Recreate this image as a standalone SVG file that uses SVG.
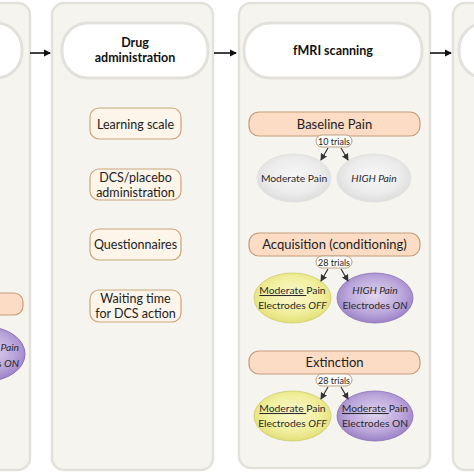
<svg xmlns="http://www.w3.org/2000/svg" width="474" height="474" viewBox="0 0 474 474">
<style>
.panel{fill:#f6f4ee;stroke:#e3e1db;stroke-width:2.5}
.head{fill:#ffffff;stroke:#e3e1db;stroke-width:3}
.htxt{font-family:Lato,"Open Sans",sans-serif;font-weight:bold;font-size:12.5px;fill:#111;text-anchor:middle}
.step{fill:#fdf5e9;stroke:#c9a57f;stroke-width:1.2}
.stxt{font-family:Lato,"Open Sans",sans-serif;font-size:12.5px;fill:#222;text-anchor:middle}
.phase{fill:#fcdcc4;stroke:#c39d7c;stroke-width:1.2}
.ptxt{font-family:Lato,"Open Sans",sans-serif;font-size:13px;fill:#222;text-anchor:middle}
.trial{fill:#ffffff;stroke:#b9a184;stroke-width:1}
.ttxt{font-family:Lato,"Open Sans",sans-serif;font-size:9px;fill:#222;text-anchor:middle}
.etxt{font-family:Lato,"Open Sans",sans-serif;font-size:10.3px;fill:#2a2a2a;text-anchor:middle}
.flow{stroke:#111;stroke-width:1.6;fill:none;marker-end:url(#ah)}
.sub{stroke:#333;stroke-width:1.2;fill:none;marker-end:url(#sh)}
.u{text-decoration:underline}
.i{font-style:italic}
</style>
<defs>
<marker id="ah" markerWidth="8" markerHeight="8" refX="6" refY="4" orient="auto" markerUnits="userSpaceOnUse"><path d="M0,0.5 L7,4 L0,7.5 Z" fill="#111"/></marker>
<marker id="sh" markerWidth="8" markerHeight="8" refX="6" refY="4" orient="auto" markerUnits="userSpaceOnUse"><path d="M0,0.5 L7,4 L0,7.5 Z" fill="#333"/></marker>
<radialGradient id="gGray" cx="0.5" cy="0.45" r="0.6"><stop offset="0" stop-color="#f7f7f7"/><stop offset="0.6" stop-color="#ececec"/><stop offset="1" stop-color="#d9d9d9"/></radialGradient>
<radialGradient id="gYel" cx="0.5" cy="0.45" r="0.6"><stop offset="0" stop-color="#fbf9cf"/><stop offset="0.6" stop-color="#f1ef9e"/><stop offset="1" stop-color="#dedc6e"/></radialGradient>
<radialGradient id="gPur" cx="0.5" cy="0.45" r="0.6"><stop offset="0" stop-color="#e2d6f0"/><stop offset="0.6" stop-color="#bba7db"/><stop offset="1" stop-color="#9479c2"/></radialGradient>
</defs>

<g id="panel-left">
<rect class="panel" x="-40" y="3" width="70" height="467" rx="12"/>
<rect class="head" x="-60" y="23" width="82" height="55" rx="26"/>
<rect class="phase" x="-80" y="293" width="103" height="22" rx="9"/>
<ellipse cx="-13" cy="354" rx="38" ry="27" fill="url(#gPur)" stroke="#8a70b8" stroke-width="1"/>
<text class="etxt" x="19" y="351" style="text-anchor:end"><tspan class="i">HIGH Pain</tspan></text>
<text class="etxt" x="19" y="367" style="text-anchor:end">Electrodes <tspan class="i">ON</tspan></text>
</g>

<g id="panel-drug">
<rect class="panel" x="52" y="3" width="161" height="467" rx="12"/>
<rect class="head" x="62" y="23" width="146" height="55" rx="26"/>
<text class="htxt" x="135" y="47">Drug</text>
<text class="htxt" x="135" y="62">administration</text>
</g>
<g id="step-learning"><rect class="step" x="90" y="108" width="91" height="31" rx="9"/><text class="stxt" x="135.5" y="128.5">Learning scale</text></g>
<g id="step-dcs"><rect class="step" x="90" y="169" width="91" height="31" rx="9"/><text class="stxt" x="135.5" y="181.5">DCS/placebo</text><text class="stxt" x="135.5" y="196.5">administration</text></g>
<g id="step-quest"><rect class="step" x="90" y="229" width="91" height="31" rx="9"/><text class="stxt" x="135.5" y="249">Questionnaires</text></g>
<g id="step-wait"><rect class="step" x="90" y="290" width="91" height="32" rx="9"/><text class="stxt" x="135.5" y="302.5">Waiting time</text><text class="stxt" x="135.5" y="317.5">for DCS action</text></g>

<g id="panel-fmri">
<rect class="panel" x="239" y="3" width="191" height="465" rx="12"/>
<rect class="head" x="244" y="23" width="178" height="55" rx="26"/>
<text class="htxt" x="333" y="55">fMRI scanning</text>
</g>

<g id="phase-baseline"><rect class="phase" x="249" y="112" width="171" height="24" rx="10"/><text class="ptxt" x="334.5" y="128.5">Baseline Pain</text></g>
<g id="trials-10"><rect class="trial" x="316" y="135" width="36" height="12" rx="6"/><text class="ttxt" x="334" y="144.5">10 trials</text></g>
<g id="base-moderate"><ellipse cx="294" cy="178" rx="37" ry="24" fill="url(#gGray)" stroke="#e0e0e0" stroke-width="0.8"/><text class="etxt" x="294" y="182">Moderate Pain</text></g>
<g id="base-high"><ellipse cx="374" cy="178" rx="37" ry="24" fill="url(#gGray)" stroke="#e0e0e0" stroke-width="0.8"/><text class="etxt i" x="374" y="182">HIGH Pain</text></g>

<g id="phase-acq"><rect class="phase" x="249" y="233" width="171" height="23" rx="10"/><text class="ptxt" x="334.5" y="249">Acquisition (conditioning)</text></g>
<g id="trials-28a"><rect class="trial" x="316" y="256" width="36" height="12" rx="6"/><text class="ttxt" x="334" y="265.5">28 trials</text></g>
<g id="acq-moderate"><ellipse cx="292.5" cy="298" rx="38.5" ry="25" fill="url(#gYel)" stroke="#cfcd6a" stroke-width="0.8"/><text class="etxt" x="292.5" y="294"><tspan class="u">Moderate </tspan>Pain</text><text class="etxt" x="292.5" y="309">Electrodes <tspan class="i">OFF</tspan></text></g>
<g id="acq-high"><ellipse cx="375" cy="298" rx="38" ry="25" fill="url(#gPur)" stroke="#8a70b8" stroke-width="0.8"/><text class="etxt i" x="375" y="294">HIGH Pain</text><text class="etxt" x="375" y="309">Electrodes <tspan class="i">ON</tspan></text></g>

<g id="phase-ext"><rect class="phase" x="249" y="351" width="171" height="23" rx="10"/><text class="ptxt" x="334.5" y="367">Extinction</text></g>
<g id="trials-28b"><rect class="trial" x="316" y="374" width="36" height="12" rx="6"/><text class="ttxt" x="334" y="383.5">28 trials</text></g>
<g id="ext-moderate-off"><ellipse cx="292.5" cy="416" rx="38.5" ry="25" fill="url(#gYel)" stroke="#cfcd6a" stroke-width="0.8"/><text class="etxt" x="292.5" y="412"><tspan class="u">Moderate </tspan>Pain</text><text class="etxt" x="292.5" y="427">Electrodes <tspan class="i">OFF</tspan></text></g>
<g id="ext-moderate-on"><ellipse cx="375" cy="416" rx="38" ry="25" fill="url(#gPur)" stroke="#8a70b8" stroke-width="0.8"/><text class="etxt" x="375" y="412"><tspan class="u">Moderate </tspan>Pain</text><text class="etxt" x="375" y="427">Electrodes ON</text></g>

<g id="panel-right">
<rect class="panel" x="453" y="3" width="80" height="467" rx="12"/>
<rect class="head" x="459" y="23" width="80" height="55" rx="26"/>
</g>

<g id="connectors">
<line class="flow" x1="30" y1="53" x2="50" y2="53"/>
<line class="flow" x1="214" y1="53" x2="236" y2="53"/>
<line class="flow" x1="430" y1="53" x2="451" y2="53"/>
<line class="sub" x1="328" y1="148" x2="321" y2="160"/>
<line class="sub" x1="341" y1="148" x2="348" y2="160"/>
<line class="sub" x1="328" y1="269" x2="321" y2="281"/>
<line class="sub" x1="341" y1="269" x2="348" y2="281"/>
<line class="sub" x1="328" y1="387" x2="321" y2="399"/>
<line class="sub" x1="341" y1="387" x2="348" y2="399"/>
</g>
</svg>
